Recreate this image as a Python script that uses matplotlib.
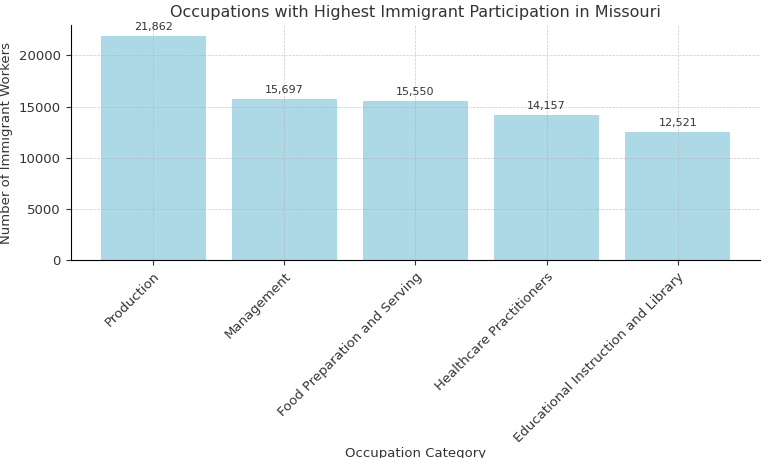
import matplotlib
matplotlib.use("Agg")
import matplotlib.pyplot as plt

categories = ["Production", "Management", "Food Preparation and Serving",
              "Healthcare Practitioners", "Educational Instruction and Library"]
values = [21862, 15697, 15550, 14157, 12521]

fig, ax = plt.subplots(figsize=(7.68, 4.58), dpi=100)
fig.subplots_adjust(left=0.092, right=0.99, top=0.945, bottom=0.432)
bars = ax.bar(categories, values, color="lightblue", width=0.8)
for b, v in zip(bars, values):
    ax.text(b.get_x() + b.get_width() / 2, v + 400, f"{v:,}", ha="center", va="bottom",
            fontsize=8, color="#333333")
ax.set_title("Occupations with Highest Immigrant Participation in Missouri", fontsize=11.5, color="#333333")
ax.set_xlabel("Occupation Category", fontsize=9.5, color="#333333", labelpad=2)
ax.set_ylabel("Number of Immigrant Workers", fontsize=9.5, color="#333333", labelpad=4)
ax.set_ylim(0, 22950)
ax.set_xlim(-0.63, 4.63)
ax.set_yticks([0, 5000, 10000, 15000, 20000])
plt.setp(ax.get_xticklabels(), rotation=45, ha="right", rotation_mode="anchor")
ax.tick_params(labelsize=9.5, colors="#333333")
ax.grid(True, linestyle="--", linewidth=0.5, alpha=0.7)
for s in ["top", "right"]:
    ax.spines[s].set_visible(False)
fig.savefig("out.png", dpi=100)
